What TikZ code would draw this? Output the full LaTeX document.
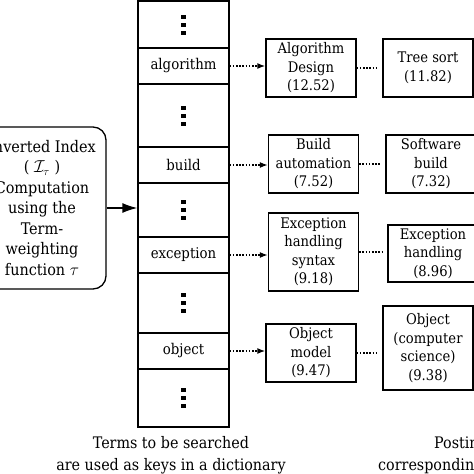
\documentclass[tikz,border=0pt]{standalone}
\usepackage{fontspec}
\setmainfont{DejaVu Serif Condensed}
\usetikzlibrary{arrows.meta}
\begin{document}
\begin{tikzpicture}[x=1pt,y=-1pt,
  cell/.style={draw, line width=1.3pt, minimum width=91pt, inner sep=0pt, font=\fontsize{14.8}{16}\selectfont},
  rbox/.style={draw, line width=1.3pt, minimum width=90pt, inner sep=0pt, align=center, font=\fontsize{14.6}{18.5}\selectfont},
  lbox/.style={draw, line width=1.3pt, rounded corners=13pt, inner sep=0pt, align=center, font=\fontsize{16}{20.5}\selectfont},
  btext/.style={inner sep=0pt, font=\fontsize{15.9}{22}\selectfont},
  dotarrow/.style={line width=1.5pt, dash pattern=on 1.6pt off 1.6pt, -{Latex[length=8pt,width=6pt]}},
  dotline/.style={line width=1.5pt, dash pattern=on 1.6pt off 1.6pt, shorten >=5.5pt},
  mainarrow/.style={line width=1.4pt, -{Latex[length=15pt,width=10pt]}}
]
\useasboundingbox (0,0) rectangle (474,474);
\clip (0,0) rectangle (474,474);

% column of cells
\node[cell, minimum height=47pt] (d1) at (183.5,24.5) {};
\node[cell, minimum height=36pt] (alg) at (183.5,66) {algorithm};
\node[cell, minimum height=63pt] (d2) at (183.5,115.5) {};
\node[cell, minimum height=36pt] (bld) at (183.5,165) {build};
\node[cell, minimum height=54pt] (d3) at (183.5,210) {};
\node[cell, minimum height=36pt] (exc) at (183.5,255) {exception};
\node[cell, minimum height=60pt] (d4) at (183.5,303) {};
\node[cell, minimum height=36pt] (obj) at (183.5,351) {object};
\node[cell, minimum height=58pt] (d5) at (183.5,398) {};

\foreach \c in {d1,d2,d3,d4,d5}
  \foreach \k in {-8,0,8}
    \fill ([shift={(-2.3,\k-2)}]\c.center) rectangle +(4.6,4);

% left box
\node[lbox, minimum width=128pt, minimum height=162pt] (inv) at (42,208)
  {Inverted Index\\ ( $\mathcal{I}_\tau$ )\\ Computation\\ using the\\ Term-\\ weighting\\ function $\tau$};

% first column of postings
\node[rbox, minimum height=58pt] (a1) at (311,68) {Algorithm\\ Design\\ (12.52)};
\node[rbox, minimum height=58pt] (b1) at (313.5,164) {Build\\ automation\\ (7.52)};
\node[rbox, minimum height=78pt] (e1) at (313.5,252) {Exception\\ handling\\ syntax\\ (9.18)};
\node[rbox, minimum height=58pt] (o1) at (311,353) {Object\\ model\\ (9.47)};

% second column of postings
\node[rbox, minimum height=58pt] (a2) at (428,68) {Tree sort\\ (11.82)};
\node[rbox, minimum height=58pt] (b2) at (431,164) {Software\\ build\\ (7.32)};
\node[rbox, minimum height=57pt] (e2) at (433,253.5) {Exception\\ handling\\ (8.96)};
\node[rbox, minimum height=84pt] (o2) at (428,348) {Object\\ (computer\\ science)\\ (9.38)};

% connectors
\draw[mainarrow] (inv.east) -- (inv.east -| d3.west);
\draw[dotarrow] (alg.east) -- (alg.east -| a1.west);
\draw[dotarrow] (bld.east) -- (bld.east -| b1.west);
\draw[dotarrow] (exc.east) -- (exc.east -| e1.west);
\draw[dotarrow] (obj.east) -- (obj.east -| o1.west);
\draw[dotline] (a1.east) -- (a1.east -| a2.west);
\draw[dotline] (b1.east) -- (b1.east -| b2.west);
\draw[dotline] (e1.east) -- (e1.east -| e2.west);
\draw[dotline] (o1.east) -- (o1.east -| o2.west);

% captions
\node[btext, anchor=base] (t1) at (171,448) {Terms to be searched};
\node[btext, anchor=base] (t2) at (171,470) {are used as keys in a dictionary};
\node[btext, anchor=base west] (p1) at (434,448) {Posting lists};
\node[btext, anchor=base west] (p2) at (378,470) {corresponding to the terms};
\end{tikzpicture}
\end{document}
